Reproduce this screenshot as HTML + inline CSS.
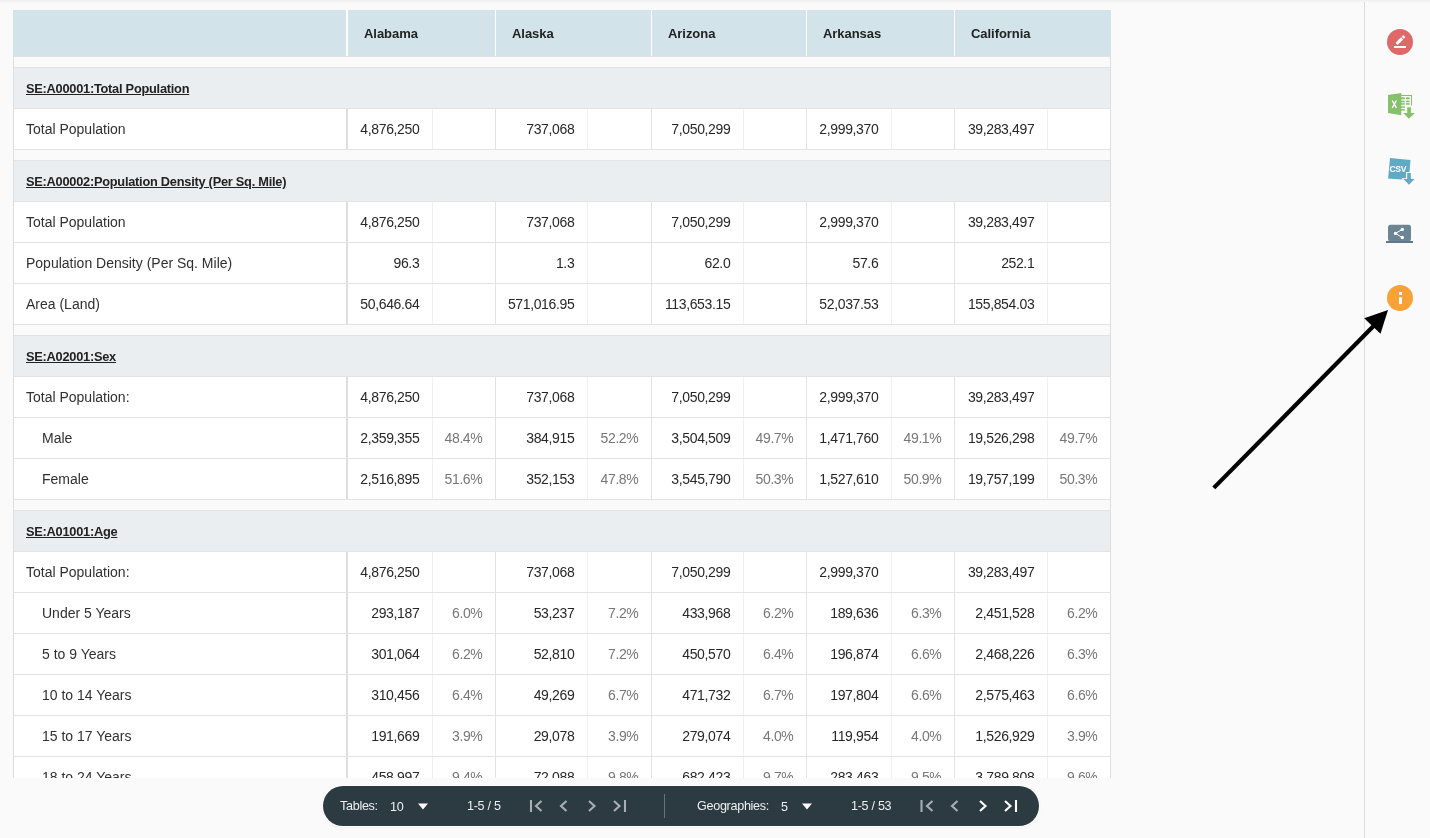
<!DOCTYPE html>
<html><head><meta charset="utf-8"><style>
html,body{margin:0;padding:0}
body{width:1430px;height:838px;overflow:hidden;position:relative;background:#fafafa;font-family:"Liberation Sans",sans-serif}
#clip{position:absolute;left:0;top:0;width:1430px;height:778px;overflow:hidden;will-change:transform}
#clip div{position:absolute;white-space:nowrap}
.th{font-weight:bold;font-size:13px;color:#222;letter-spacing:-0.05px}
.sh{font-weight:bold;font-size:12.8px;color:#222;letter-spacing:-0.25px}
.sh u{text-decoration:underline;text-underline-offset:1px}
.lb{font-size:14px;color:#303030}
.nm{font-size:14px;color:#272727;letter-spacing:-0.37px}
.pc{font-size:14px;color:#777777;letter-spacing:-0.4px}
#top{position:absolute;left:0;top:0;width:1430px;height:4px;background:linear-gradient(#f0f0f0 0px,#f0f0f0 1px,#f4f4f4 1px,#f4f4f4 2px,#f7f7f7 2px,#f7f7f7 3px,#f9f9f9 3px,#f9f9f9 4px)}
#sideline{position:absolute;left:1364px;top:2px;width:1px;height:836px;background:#dcdcdc}
#pager{position:absolute;left:323px;top:786px;width:716px;height:40px;border-radius:20px;background:#2c3a42;box-shadow:0 0 0 1px #fff,0 1px 4px rgba(0,0,0,0.06)}
#pager div, #pager svg{position:absolute}
.ft{color:#eef0f1;font-size:12.6px;white-space:nowrap;letter-spacing:-0.3px;will-change:transform}
</style></head><body>
<div id="top"></div>
<div id="clip">
<div style="left:13px;top:10px;width:1098px;height:46px;background:#d3e3ea"></div>
<div style="left:346px;top:10px;width:2px;height:46px;background:#fff"></div>
<div style="left:495px;top:10px;width:1px;height:46px;background:#fff"></div>
<div style="left:651px;top:10px;width:1px;height:46px;background:#fff"></div>
<div style="left:806px;top:10px;width:1px;height:46px;background:#fff"></div>
<div style="left:954px;top:10px;width:1px;height:46px;background:#fff"></div>
<div class="th" style="left:364px;top:11px;height:46px;line-height:46px">Alabama</div>
<div class="th" style="left:512px;top:11px;height:46px;line-height:46px">Alaska</div>
<div class="th" style="left:668px;top:11px;height:46px;line-height:46px">Arizona</div>
<div class="th" style="left:823px;top:11px;height:46px;line-height:46px">Arkansas</div>
<div class="th" style="left:971px;top:11px;height:46px;line-height:46px">California</div>
<div style="left:13px;top:56px;width:1098px;height:1px;background:#e3e3e3"></div>
<div style="left:14px;top:57px;width:1096px;height:10px;background:#fafafa"></div>
<div style="left:13px;top:67px;width:1098px;height:1px;background:#e3e3e3"></div>
<div style="left:14px;top:68px;width:1096px;height:40px;background:#eaeef1"></div>
<div class="sh" style="left:26px;top:69px;height:40px;line-height:40px"><u>SE:A00001:Total Population</u></div>
<div style="left:13px;top:108px;width:1098px;height:1px;background:#e3e3e3"></div>
<div style="left:14px;top:109px;width:1096px;height:40px;background:#fff"></div>
<div style="left:346px;top:109px;width:2px;height:40px;background:#dedede"></div>
<div style="left:432px;top:109px;width:1px;height:40px;background:#f0f0f0"></div>
<div style="left:495px;top:109px;width:1px;height:40px;background:#e3e3e3"></div>
<div style="left:587px;top:109px;width:1px;height:40px;background:#f0f0f0"></div>
<div style="left:651px;top:109px;width:1px;height:40px;background:#e3e3e3"></div>
<div style="left:743px;top:109px;width:1px;height:40px;background:#f0f0f0"></div>
<div style="left:806px;top:109px;width:1px;height:40px;background:#e3e3e3"></div>
<div style="left:891px;top:109px;width:1px;height:40px;background:#f0f0f0"></div>
<div style="left:954px;top:109px;width:1px;height:40px;background:#e3e3e3"></div>
<div style="left:1047px;top:109px;width:1px;height:40px;background:#f0f0f0"></div>
<div class="lb" style="left:26px;top:109px;height:40px;line-height:40px">Total Population</div>
<div class="nm" style="right:1010.7px;top:109px;height:40px;line-height:40px">4,876,250</div>
<div class="nm" style="right:855.7px;top:109px;height:40px;line-height:40px">737,068</div>
<div class="nm" style="right:699.7px;top:109px;height:40px;line-height:40px">7,050,299</div>
<div class="nm" style="right:551.7px;top:109px;height:40px;line-height:40px">2,999,370</div>
<div class="nm" style="right:395.7px;top:109px;height:40px;line-height:40px">39,283,497</div>
<div style="left:13px;top:149px;width:1098px;height:1px;background:#e3e3e3"></div>
<div style="left:14px;top:150px;width:1096px;height:10px;background:#fafafa"></div>
<div style="left:13px;top:160px;width:1098px;height:1px;background:#e3e3e3"></div>
<div style="left:14px;top:161px;width:1096px;height:40px;background:#eaeef1"></div>
<div class="sh" style="left:26px;top:162px;height:40px;line-height:40px"><u>SE:A00002:Population Density (Per Sq. Mile)</u></div>
<div style="left:13px;top:201px;width:1098px;height:1px;background:#e3e3e3"></div>
<div style="left:14px;top:202px;width:1096px;height:40px;background:#fff"></div>
<div style="left:346px;top:202px;width:2px;height:40px;background:#dedede"></div>
<div style="left:432px;top:202px;width:1px;height:40px;background:#f0f0f0"></div>
<div style="left:495px;top:202px;width:1px;height:40px;background:#e3e3e3"></div>
<div style="left:587px;top:202px;width:1px;height:40px;background:#f0f0f0"></div>
<div style="left:651px;top:202px;width:1px;height:40px;background:#e3e3e3"></div>
<div style="left:743px;top:202px;width:1px;height:40px;background:#f0f0f0"></div>
<div style="left:806px;top:202px;width:1px;height:40px;background:#e3e3e3"></div>
<div style="left:891px;top:202px;width:1px;height:40px;background:#f0f0f0"></div>
<div style="left:954px;top:202px;width:1px;height:40px;background:#e3e3e3"></div>
<div style="left:1047px;top:202px;width:1px;height:40px;background:#f0f0f0"></div>
<div class="lb" style="left:26px;top:202px;height:40px;line-height:40px">Total Population</div>
<div class="nm" style="right:1010.7px;top:202px;height:40px;line-height:40px">4,876,250</div>
<div class="nm" style="right:855.7px;top:202px;height:40px;line-height:40px">737,068</div>
<div class="nm" style="right:699.7px;top:202px;height:40px;line-height:40px">7,050,299</div>
<div class="nm" style="right:551.7px;top:202px;height:40px;line-height:40px">2,999,370</div>
<div class="nm" style="right:395.7px;top:202px;height:40px;line-height:40px">39,283,497</div>
<div style="left:13px;top:242px;width:1098px;height:1px;background:#e3e3e3"></div>
<div style="left:14px;top:243px;width:1096px;height:40px;background:#fff"></div>
<div style="left:346px;top:243px;width:2px;height:40px;background:#dedede"></div>
<div style="left:432px;top:243px;width:1px;height:40px;background:#f0f0f0"></div>
<div style="left:495px;top:243px;width:1px;height:40px;background:#e3e3e3"></div>
<div style="left:587px;top:243px;width:1px;height:40px;background:#f0f0f0"></div>
<div style="left:651px;top:243px;width:1px;height:40px;background:#e3e3e3"></div>
<div style="left:743px;top:243px;width:1px;height:40px;background:#f0f0f0"></div>
<div style="left:806px;top:243px;width:1px;height:40px;background:#e3e3e3"></div>
<div style="left:891px;top:243px;width:1px;height:40px;background:#f0f0f0"></div>
<div style="left:954px;top:243px;width:1px;height:40px;background:#e3e3e3"></div>
<div style="left:1047px;top:243px;width:1px;height:40px;background:#f0f0f0"></div>
<div class="lb" style="left:26px;top:243px;height:40px;line-height:40px">Population Density (Per Sq. Mile)</div>
<div class="nm" style="right:1010.7px;top:243px;height:40px;line-height:40px">96.3</div>
<div class="nm" style="right:855.7px;top:243px;height:40px;line-height:40px">1.3</div>
<div class="nm" style="right:699.7px;top:243px;height:40px;line-height:40px">62.0</div>
<div class="nm" style="right:551.7px;top:243px;height:40px;line-height:40px">57.6</div>
<div class="nm" style="right:395.7px;top:243px;height:40px;line-height:40px">252.1</div>
<div style="left:13px;top:283px;width:1098px;height:1px;background:#e3e3e3"></div>
<div style="left:14px;top:284px;width:1096px;height:40px;background:#fff"></div>
<div style="left:346px;top:284px;width:2px;height:40px;background:#dedede"></div>
<div style="left:432px;top:284px;width:1px;height:40px;background:#f0f0f0"></div>
<div style="left:495px;top:284px;width:1px;height:40px;background:#e3e3e3"></div>
<div style="left:587px;top:284px;width:1px;height:40px;background:#f0f0f0"></div>
<div style="left:651px;top:284px;width:1px;height:40px;background:#e3e3e3"></div>
<div style="left:743px;top:284px;width:1px;height:40px;background:#f0f0f0"></div>
<div style="left:806px;top:284px;width:1px;height:40px;background:#e3e3e3"></div>
<div style="left:891px;top:284px;width:1px;height:40px;background:#f0f0f0"></div>
<div style="left:954px;top:284px;width:1px;height:40px;background:#e3e3e3"></div>
<div style="left:1047px;top:284px;width:1px;height:40px;background:#f0f0f0"></div>
<div class="lb" style="left:26px;top:284px;height:40px;line-height:40px">Area (Land)</div>
<div class="nm" style="right:1010.7px;top:284px;height:40px;line-height:40px">50,646.64</div>
<div class="nm" style="right:855.7px;top:284px;height:40px;line-height:40px">571,016.95</div>
<div class="nm" style="right:699.7px;top:284px;height:40px;line-height:40px">113,653.15</div>
<div class="nm" style="right:551.7px;top:284px;height:40px;line-height:40px">52,037.53</div>
<div class="nm" style="right:395.7px;top:284px;height:40px;line-height:40px">155,854.03</div>
<div style="left:13px;top:324px;width:1098px;height:1px;background:#e3e3e3"></div>
<div style="left:14px;top:325px;width:1096px;height:10px;background:#fafafa"></div>
<div style="left:13px;top:335px;width:1098px;height:1px;background:#e3e3e3"></div>
<div style="left:14px;top:336px;width:1096px;height:40px;background:#eaeef1"></div>
<div class="sh" style="left:26px;top:337px;height:40px;line-height:40px"><u>SE:A02001:Sex</u></div>
<div style="left:13px;top:376px;width:1098px;height:1px;background:#e3e3e3"></div>
<div style="left:14px;top:377px;width:1096px;height:40px;background:#fff"></div>
<div style="left:346px;top:377px;width:2px;height:40px;background:#dedede"></div>
<div style="left:432px;top:377px;width:1px;height:40px;background:#f0f0f0"></div>
<div style="left:495px;top:377px;width:1px;height:40px;background:#e3e3e3"></div>
<div style="left:587px;top:377px;width:1px;height:40px;background:#f0f0f0"></div>
<div style="left:651px;top:377px;width:1px;height:40px;background:#e3e3e3"></div>
<div style="left:743px;top:377px;width:1px;height:40px;background:#f0f0f0"></div>
<div style="left:806px;top:377px;width:1px;height:40px;background:#e3e3e3"></div>
<div style="left:891px;top:377px;width:1px;height:40px;background:#f0f0f0"></div>
<div style="left:954px;top:377px;width:1px;height:40px;background:#e3e3e3"></div>
<div style="left:1047px;top:377px;width:1px;height:40px;background:#f0f0f0"></div>
<div class="lb" style="left:26px;top:377px;height:40px;line-height:40px">Total Population:</div>
<div class="nm" style="right:1010.7px;top:377px;height:40px;line-height:40px">4,876,250</div>
<div class="nm" style="right:855.7px;top:377px;height:40px;line-height:40px">737,068</div>
<div class="nm" style="right:699.7px;top:377px;height:40px;line-height:40px">7,050,299</div>
<div class="nm" style="right:551.7px;top:377px;height:40px;line-height:40px">2,999,370</div>
<div class="nm" style="right:395.7px;top:377px;height:40px;line-height:40px">39,283,497</div>
<div style="left:13px;top:417px;width:1098px;height:1px;background:#e3e3e3"></div>
<div style="left:14px;top:418px;width:1096px;height:40px;background:#fff"></div>
<div style="left:346px;top:418px;width:2px;height:40px;background:#dedede"></div>
<div style="left:432px;top:418px;width:1px;height:40px;background:#f0f0f0"></div>
<div style="left:495px;top:418px;width:1px;height:40px;background:#e3e3e3"></div>
<div style="left:587px;top:418px;width:1px;height:40px;background:#f0f0f0"></div>
<div style="left:651px;top:418px;width:1px;height:40px;background:#e3e3e3"></div>
<div style="left:743px;top:418px;width:1px;height:40px;background:#f0f0f0"></div>
<div style="left:806px;top:418px;width:1px;height:40px;background:#e3e3e3"></div>
<div style="left:891px;top:418px;width:1px;height:40px;background:#f0f0f0"></div>
<div style="left:954px;top:418px;width:1px;height:40px;background:#e3e3e3"></div>
<div style="left:1047px;top:418px;width:1px;height:40px;background:#f0f0f0"></div>
<div class="lb" style="left:42px;top:418px;height:40px;line-height:40px">Male</div>
<div class="nm" style="right:1010.7px;top:418px;height:40px;line-height:40px">2,359,355</div>
<div class="pc" style="right:947.7px;top:418px;height:40px;line-height:40px">48.4%</div>
<div class="nm" style="right:855.7px;top:418px;height:40px;line-height:40px">384,915</div>
<div class="pc" style="right:791.7px;top:418px;height:40px;line-height:40px">52.2%</div>
<div class="nm" style="right:699.7px;top:418px;height:40px;line-height:40px">3,504,509</div>
<div class="pc" style="right:636.7px;top:418px;height:40px;line-height:40px">49.7%</div>
<div class="nm" style="right:551.7px;top:418px;height:40px;line-height:40px">1,471,760</div>
<div class="pc" style="right:488.7px;top:418px;height:40px;line-height:40px">49.1%</div>
<div class="nm" style="right:395.7px;top:418px;height:40px;line-height:40px">19,526,298</div>
<div class="pc" style="right:332.7px;top:418px;height:40px;line-height:40px">49.7%</div>
<div style="left:13px;top:458px;width:1098px;height:1px;background:#e3e3e3"></div>
<div style="left:14px;top:459px;width:1096px;height:40px;background:#fff"></div>
<div style="left:346px;top:459px;width:2px;height:40px;background:#dedede"></div>
<div style="left:432px;top:459px;width:1px;height:40px;background:#f0f0f0"></div>
<div style="left:495px;top:459px;width:1px;height:40px;background:#e3e3e3"></div>
<div style="left:587px;top:459px;width:1px;height:40px;background:#f0f0f0"></div>
<div style="left:651px;top:459px;width:1px;height:40px;background:#e3e3e3"></div>
<div style="left:743px;top:459px;width:1px;height:40px;background:#f0f0f0"></div>
<div style="left:806px;top:459px;width:1px;height:40px;background:#e3e3e3"></div>
<div style="left:891px;top:459px;width:1px;height:40px;background:#f0f0f0"></div>
<div style="left:954px;top:459px;width:1px;height:40px;background:#e3e3e3"></div>
<div style="left:1047px;top:459px;width:1px;height:40px;background:#f0f0f0"></div>
<div class="lb" style="left:42px;top:459px;height:40px;line-height:40px">Female</div>
<div class="nm" style="right:1010.7px;top:459px;height:40px;line-height:40px">2,516,895</div>
<div class="pc" style="right:947.7px;top:459px;height:40px;line-height:40px">51.6%</div>
<div class="nm" style="right:855.7px;top:459px;height:40px;line-height:40px">352,153</div>
<div class="pc" style="right:791.7px;top:459px;height:40px;line-height:40px">47.8%</div>
<div class="nm" style="right:699.7px;top:459px;height:40px;line-height:40px">3,545,790</div>
<div class="pc" style="right:636.7px;top:459px;height:40px;line-height:40px">50.3%</div>
<div class="nm" style="right:551.7px;top:459px;height:40px;line-height:40px">1,527,610</div>
<div class="pc" style="right:488.7px;top:459px;height:40px;line-height:40px">50.9%</div>
<div class="nm" style="right:395.7px;top:459px;height:40px;line-height:40px">19,757,199</div>
<div class="pc" style="right:332.7px;top:459px;height:40px;line-height:40px">50.3%</div>
<div style="left:13px;top:499px;width:1098px;height:1px;background:#e3e3e3"></div>
<div style="left:14px;top:500px;width:1096px;height:10px;background:#fafafa"></div>
<div style="left:13px;top:510px;width:1098px;height:1px;background:#e3e3e3"></div>
<div style="left:14px;top:511px;width:1096px;height:40px;background:#eaeef1"></div>
<div class="sh" style="left:26px;top:512px;height:40px;line-height:40px"><u>SE:A01001:Age</u></div>
<div style="left:13px;top:551px;width:1098px;height:1px;background:#e3e3e3"></div>
<div style="left:14px;top:552px;width:1096px;height:40px;background:#fff"></div>
<div style="left:346px;top:552px;width:2px;height:40px;background:#dedede"></div>
<div style="left:432px;top:552px;width:1px;height:40px;background:#f0f0f0"></div>
<div style="left:495px;top:552px;width:1px;height:40px;background:#e3e3e3"></div>
<div style="left:587px;top:552px;width:1px;height:40px;background:#f0f0f0"></div>
<div style="left:651px;top:552px;width:1px;height:40px;background:#e3e3e3"></div>
<div style="left:743px;top:552px;width:1px;height:40px;background:#f0f0f0"></div>
<div style="left:806px;top:552px;width:1px;height:40px;background:#e3e3e3"></div>
<div style="left:891px;top:552px;width:1px;height:40px;background:#f0f0f0"></div>
<div style="left:954px;top:552px;width:1px;height:40px;background:#e3e3e3"></div>
<div style="left:1047px;top:552px;width:1px;height:40px;background:#f0f0f0"></div>
<div class="lb" style="left:26px;top:552px;height:40px;line-height:40px">Total Population:</div>
<div class="nm" style="right:1010.7px;top:552px;height:40px;line-height:40px">4,876,250</div>
<div class="nm" style="right:855.7px;top:552px;height:40px;line-height:40px">737,068</div>
<div class="nm" style="right:699.7px;top:552px;height:40px;line-height:40px">7,050,299</div>
<div class="nm" style="right:551.7px;top:552px;height:40px;line-height:40px">2,999,370</div>
<div class="nm" style="right:395.7px;top:552px;height:40px;line-height:40px">39,283,497</div>
<div style="left:13px;top:592px;width:1098px;height:1px;background:#e3e3e3"></div>
<div style="left:14px;top:593px;width:1096px;height:40px;background:#fff"></div>
<div style="left:346px;top:593px;width:2px;height:40px;background:#dedede"></div>
<div style="left:432px;top:593px;width:1px;height:40px;background:#f0f0f0"></div>
<div style="left:495px;top:593px;width:1px;height:40px;background:#e3e3e3"></div>
<div style="left:587px;top:593px;width:1px;height:40px;background:#f0f0f0"></div>
<div style="left:651px;top:593px;width:1px;height:40px;background:#e3e3e3"></div>
<div style="left:743px;top:593px;width:1px;height:40px;background:#f0f0f0"></div>
<div style="left:806px;top:593px;width:1px;height:40px;background:#e3e3e3"></div>
<div style="left:891px;top:593px;width:1px;height:40px;background:#f0f0f0"></div>
<div style="left:954px;top:593px;width:1px;height:40px;background:#e3e3e3"></div>
<div style="left:1047px;top:593px;width:1px;height:40px;background:#f0f0f0"></div>
<div class="lb" style="left:42px;top:593px;height:40px;line-height:40px">Under 5 Years</div>
<div class="nm" style="right:1010.7px;top:593px;height:40px;line-height:40px">293,187</div>
<div class="pc" style="right:947.7px;top:593px;height:40px;line-height:40px">6.0%</div>
<div class="nm" style="right:855.7px;top:593px;height:40px;line-height:40px">53,237</div>
<div class="pc" style="right:791.7px;top:593px;height:40px;line-height:40px">7.2%</div>
<div class="nm" style="right:699.7px;top:593px;height:40px;line-height:40px">433,968</div>
<div class="pc" style="right:636.7px;top:593px;height:40px;line-height:40px">6.2%</div>
<div class="nm" style="right:551.7px;top:593px;height:40px;line-height:40px">189,636</div>
<div class="pc" style="right:488.7px;top:593px;height:40px;line-height:40px">6.3%</div>
<div class="nm" style="right:395.7px;top:593px;height:40px;line-height:40px">2,451,528</div>
<div class="pc" style="right:332.7px;top:593px;height:40px;line-height:40px">6.2%</div>
<div style="left:13px;top:633px;width:1098px;height:1px;background:#e3e3e3"></div>
<div style="left:14px;top:634px;width:1096px;height:40px;background:#fff"></div>
<div style="left:346px;top:634px;width:2px;height:40px;background:#dedede"></div>
<div style="left:432px;top:634px;width:1px;height:40px;background:#f0f0f0"></div>
<div style="left:495px;top:634px;width:1px;height:40px;background:#e3e3e3"></div>
<div style="left:587px;top:634px;width:1px;height:40px;background:#f0f0f0"></div>
<div style="left:651px;top:634px;width:1px;height:40px;background:#e3e3e3"></div>
<div style="left:743px;top:634px;width:1px;height:40px;background:#f0f0f0"></div>
<div style="left:806px;top:634px;width:1px;height:40px;background:#e3e3e3"></div>
<div style="left:891px;top:634px;width:1px;height:40px;background:#f0f0f0"></div>
<div style="left:954px;top:634px;width:1px;height:40px;background:#e3e3e3"></div>
<div style="left:1047px;top:634px;width:1px;height:40px;background:#f0f0f0"></div>
<div class="lb" style="left:42px;top:634px;height:40px;line-height:40px">5 to 9 Years</div>
<div class="nm" style="right:1010.7px;top:634px;height:40px;line-height:40px">301,064</div>
<div class="pc" style="right:947.7px;top:634px;height:40px;line-height:40px">6.2%</div>
<div class="nm" style="right:855.7px;top:634px;height:40px;line-height:40px">52,810</div>
<div class="pc" style="right:791.7px;top:634px;height:40px;line-height:40px">7.2%</div>
<div class="nm" style="right:699.7px;top:634px;height:40px;line-height:40px">450,570</div>
<div class="pc" style="right:636.7px;top:634px;height:40px;line-height:40px">6.4%</div>
<div class="nm" style="right:551.7px;top:634px;height:40px;line-height:40px">196,874</div>
<div class="pc" style="right:488.7px;top:634px;height:40px;line-height:40px">6.6%</div>
<div class="nm" style="right:395.7px;top:634px;height:40px;line-height:40px">2,468,226</div>
<div class="pc" style="right:332.7px;top:634px;height:40px;line-height:40px">6.3%</div>
<div style="left:13px;top:674px;width:1098px;height:1px;background:#e3e3e3"></div>
<div style="left:14px;top:675px;width:1096px;height:40px;background:#fff"></div>
<div style="left:346px;top:675px;width:2px;height:40px;background:#dedede"></div>
<div style="left:432px;top:675px;width:1px;height:40px;background:#f0f0f0"></div>
<div style="left:495px;top:675px;width:1px;height:40px;background:#e3e3e3"></div>
<div style="left:587px;top:675px;width:1px;height:40px;background:#f0f0f0"></div>
<div style="left:651px;top:675px;width:1px;height:40px;background:#e3e3e3"></div>
<div style="left:743px;top:675px;width:1px;height:40px;background:#f0f0f0"></div>
<div style="left:806px;top:675px;width:1px;height:40px;background:#e3e3e3"></div>
<div style="left:891px;top:675px;width:1px;height:40px;background:#f0f0f0"></div>
<div style="left:954px;top:675px;width:1px;height:40px;background:#e3e3e3"></div>
<div style="left:1047px;top:675px;width:1px;height:40px;background:#f0f0f0"></div>
<div class="lb" style="left:42px;top:675px;height:40px;line-height:40px">10 to 14 Years</div>
<div class="nm" style="right:1010.7px;top:675px;height:40px;line-height:40px">310,456</div>
<div class="pc" style="right:947.7px;top:675px;height:40px;line-height:40px">6.4%</div>
<div class="nm" style="right:855.7px;top:675px;height:40px;line-height:40px">49,269</div>
<div class="pc" style="right:791.7px;top:675px;height:40px;line-height:40px">6.7%</div>
<div class="nm" style="right:699.7px;top:675px;height:40px;line-height:40px">471,732</div>
<div class="pc" style="right:636.7px;top:675px;height:40px;line-height:40px">6.7%</div>
<div class="nm" style="right:551.7px;top:675px;height:40px;line-height:40px">197,804</div>
<div class="pc" style="right:488.7px;top:675px;height:40px;line-height:40px">6.6%</div>
<div class="nm" style="right:395.7px;top:675px;height:40px;line-height:40px">2,575,463</div>
<div class="pc" style="right:332.7px;top:675px;height:40px;line-height:40px">6.6%</div>
<div style="left:13px;top:715px;width:1098px;height:1px;background:#e3e3e3"></div>
<div style="left:14px;top:716px;width:1096px;height:40px;background:#fff"></div>
<div style="left:346px;top:716px;width:2px;height:40px;background:#dedede"></div>
<div style="left:432px;top:716px;width:1px;height:40px;background:#f0f0f0"></div>
<div style="left:495px;top:716px;width:1px;height:40px;background:#e3e3e3"></div>
<div style="left:587px;top:716px;width:1px;height:40px;background:#f0f0f0"></div>
<div style="left:651px;top:716px;width:1px;height:40px;background:#e3e3e3"></div>
<div style="left:743px;top:716px;width:1px;height:40px;background:#f0f0f0"></div>
<div style="left:806px;top:716px;width:1px;height:40px;background:#e3e3e3"></div>
<div style="left:891px;top:716px;width:1px;height:40px;background:#f0f0f0"></div>
<div style="left:954px;top:716px;width:1px;height:40px;background:#e3e3e3"></div>
<div style="left:1047px;top:716px;width:1px;height:40px;background:#f0f0f0"></div>
<div class="lb" style="left:42px;top:716px;height:40px;line-height:40px">15 to 17 Years</div>
<div class="nm" style="right:1010.7px;top:716px;height:40px;line-height:40px">191,669</div>
<div class="pc" style="right:947.7px;top:716px;height:40px;line-height:40px">3.9%</div>
<div class="nm" style="right:855.7px;top:716px;height:40px;line-height:40px">29,078</div>
<div class="pc" style="right:791.7px;top:716px;height:40px;line-height:40px">3.9%</div>
<div class="nm" style="right:699.7px;top:716px;height:40px;line-height:40px">279,074</div>
<div class="pc" style="right:636.7px;top:716px;height:40px;line-height:40px">4.0%</div>
<div class="nm" style="right:551.7px;top:716px;height:40px;line-height:40px">119,954</div>
<div class="pc" style="right:488.7px;top:716px;height:40px;line-height:40px">4.0%</div>
<div class="nm" style="right:395.7px;top:716px;height:40px;line-height:40px">1,526,929</div>
<div class="pc" style="right:332.7px;top:716px;height:40px;line-height:40px">3.9%</div>
<div style="left:13px;top:756px;width:1098px;height:1px;background:#e3e3e3"></div>
<div style="left:14px;top:757px;width:1096px;height:40px;background:#fff"></div>
<div style="left:346px;top:757px;width:2px;height:40px;background:#dedede"></div>
<div style="left:432px;top:757px;width:1px;height:40px;background:#f0f0f0"></div>
<div style="left:495px;top:757px;width:1px;height:40px;background:#e3e3e3"></div>
<div style="left:587px;top:757px;width:1px;height:40px;background:#f0f0f0"></div>
<div style="left:651px;top:757px;width:1px;height:40px;background:#e3e3e3"></div>
<div style="left:743px;top:757px;width:1px;height:40px;background:#f0f0f0"></div>
<div style="left:806px;top:757px;width:1px;height:40px;background:#e3e3e3"></div>
<div style="left:891px;top:757px;width:1px;height:40px;background:#f0f0f0"></div>
<div style="left:954px;top:757px;width:1px;height:40px;background:#e3e3e3"></div>
<div style="left:1047px;top:757px;width:1px;height:40px;background:#f0f0f0"></div>
<div class="lb" style="left:42px;top:757px;height:40px;line-height:40px">18 to 24 Years</div>
<div class="nm" style="right:1010.7px;top:757px;height:40px;line-height:40px">458,997</div>
<div class="pc" style="right:947.7px;top:757px;height:40px;line-height:40px">9.4%</div>
<div class="nm" style="right:855.7px;top:757px;height:40px;line-height:40px">72,088</div>
<div class="pc" style="right:791.7px;top:757px;height:40px;line-height:40px">9.8%</div>
<div class="nm" style="right:699.7px;top:757px;height:40px;line-height:40px">682,423</div>
<div class="pc" style="right:636.7px;top:757px;height:40px;line-height:40px">9.7%</div>
<div class="nm" style="right:551.7px;top:757px;height:40px;line-height:40px">283,463</div>
<div class="pc" style="right:488.7px;top:757px;height:40px;line-height:40px">9.5%</div>
<div class="nm" style="right:395.7px;top:757px;height:40px;line-height:40px">3,789,808</div>
<div class="pc" style="right:332.7px;top:757px;height:40px;line-height:40px">9.6%</div>
<div style="left:13px;top:56px;width:1px;height:722px;background:#dedede"></div>
<div style="left:1110px;top:56px;width:1px;height:722px;background:#dedede"></div>
</div>
<div id="sideline"></div>
<div id="pager"></div>
<div class="ft" style="position:absolute;left:340px;top:798px;line-height:16px">Tables:</div>
<div class="ft" style="position:absolute;left:389.5px;top:799px;line-height:16px">10</div>
<div class="ft" style="position:absolute;left:467px;top:798px;line-height:16px">1-5 / 5</div>
<div class="ft" style="position:absolute;left:697px;top:798px;line-height:16px">Geographies:</div>
<div class="ft" style="position:absolute;left:781px;top:799px;line-height:16px">5</div>
<div class="ft" style="position:absolute;left:851px;top:798px;line-height:16px">1-5 / 53</div>
<svg style="position:absolute;left:0;top:0" width="1430" height="838" viewBox="0 0 1430 838">
  <!-- pager triangles -->
  <path d="M418 803.5 L428 803.5 L423 809.5 Z" fill="#fff"/>
  <path d="M802 803.5 L812 803.5 L807 809.5 Z" fill="#fff"/>
  <!-- group 1 icons (disabled) -->
  <g stroke="#a7afb3" stroke-width="2.1" fill="none" stroke-linecap="butt">
    <path d="M531 800 V812"/>
    <path d="M541.5 801 L536 806 L541.5 811"/>
    <path d="M566.5 801 L561 806 L566.5 811"/>
    <path d="M589 801 L594.5 806 L589 811"/>
    <path d="M614 801 L619.5 806 L614 811"/>
    <path d="M625 800 V812"/>
  </g>
  <rect x="664" y="794" width="1" height="24" fill="#65747a"/>
  <g stroke="#a7afb3" stroke-width="2.1" fill="none">
    <path d="M921.5 800 V812"/>
    <path d="M932.5 801 L927 806 L932.5 811"/>
    <path d="M957.5 801 L952 806 L957.5 811"/>
  </g>
  <g stroke="#ffffff" stroke-width="2.1" fill="none">
    <path d="M980 801 L985.5 806 L980 811"/>
    <path d="M1005 801 L1010.5 806 L1005 811"/>
    <path d="M1016 800 V812"/>
  </g>
  <!-- sidebar: edit -->
  <circle cx="1400" cy="42" r="13" fill="#df6868"/>
  <path d="M1397.5 43 L1399.5 41" stroke="#fff" stroke-width="3.1" stroke-linecap="round"/><path d="M1399 41.5 L1402.1 38.4" stroke="#fff" stroke-width="3.1"/><path d="M1402.75 37.75 L1404.3 36.2" stroke="#fff" stroke-width="3.1"/>
  <rect x="1394" y="46" width="12" height="2" fill="#fff"/>
  <!-- excel -->
  <g fill="#86c06a">
    <path d="M1388 95 L1401.3 93 L1401.3 115.3 L1388 113 Z"/>
    <rect x="1401" y="95" width="11" height="1"/>
    <rect x="1411" y="95" width="1" height="10.5"/>
    <rect x="1401" y="97.3" width="3.8" height="2"/>
    <rect x="1406" y="97.3" width="3.6" height="2"/>
    <rect x="1401" y="100.7" width="3.8" height="1.6"/>
    <rect x="1406" y="100.7" width="3.6" height="1.6"/>
    <rect x="1401" y="103.2" width="3.8" height="1.5"/>
    <rect x="1406" y="103.2" width="3.6" height="1.5"/>
    <rect x="1401" y="106.3" width="3.8" height="1.5"/>
    <rect x="1401" y="109.1" width="3.8" height="1.5"/>
    <path d="M1407.2 107.2 H1410.9 V113.1 H1414.8 L1408.9 118.8 L1403.3 113.1 H1407.2 Z"/>
  </g>
  <path d="M1392.2 100.5 L1396.4 107.8 M1396.4 100.5 L1392.2 107.8" stroke="#fff" stroke-width="1.4"/>
  <!-- csv -->
  <path d="M1390 158 L1410.5 160 L1409.5 172 L1406 172 L1406 178.5 L1401.5 179.6 L1388.1 178.6 Z" fill="#62a9c3"/>
  <text x="1389.6" y="172.4" font-family="Liberation Sans" font-weight="bold" font-size="8.6" fill="#fff" letter-spacing="-0.45">CSV</text>
  <path d="M1407.2 172.9 H1410.8 V179.1 H1414.6 L1409 184.8 L1403.4 179.1 H1407.2 Z" fill="#62a9c3" stroke="#fafafa" stroke-width="1.6" paint-order="stroke"/>
  <!-- share -->
  <rect x="1388" y="224.8" width="23" height="16.5" rx="2.5" fill="#6b8594"/>
  <rect x="1386" y="241" width="27" height="2" fill="#5e7888"/>
  <g fill="#fff"><circle cx="1395.5" cy="233.4" r="1.7"/><circle cx="1402.3" cy="229.4" r="1.7"/><circle cx="1402.3" cy="237.5" r="1.7"/></g>
  <path d="M1395.5 233.4 L1402.3 229.4 M1395.5 233.4 L1402.3 237.5" stroke="#fff" stroke-width="1"/>
  <!-- info -->
  <circle cx="1400" cy="298" r="13" fill="#f9a139"/>
  <rect x="1399" y="292" width="3" height="3" fill="#fff"/>
  <rect x="1399" y="297.3" width="3" height="6.8" fill="#fff"/>
  <!-- annotation arrow -->
  <path d="M1213.8 487.9 L1375 324.5" stroke="#000" stroke-width="4.2"/>
  <path d="M1388 310 L1364.2 318.2 L1380.5 333.8 Z" fill="#000"/>
</svg>

</body></html>
